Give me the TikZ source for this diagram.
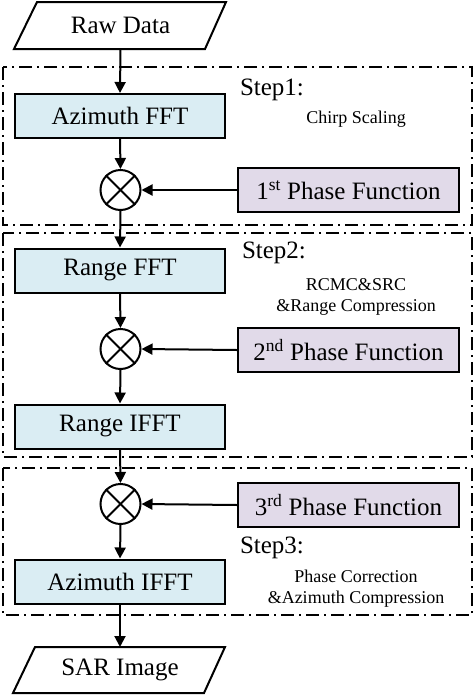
\documentclass[tikz,border=0pt]{standalone}
\usepackage{fontspec}
\setmainfont{Liberation Serif}
\usetikzlibrary{arrows.meta}
\definecolor{boxblue}{HTML}{DAEDF3}
\definecolor{boxpurple}{HTML}{E1DAE9}
\begin{document}
\begin{tikzpicture}[x=1pt,y=-1pt,line width=2pt,
  bigfont/.style={font=\fontsize{25}{30}\selectfont},
  smallfont/.style={font=\fontsize{18}{21}\selectfont},
  proc/.style={draw,fill=boxblue,minimum width=210pt,minimum height=44pt,inner sep=0pt,bigfont},
  phase/.style={draw,fill=boxpurple,minimum width=221pt,minimum height=44pt,inner sep=0pt,bigfont},
  iobox/.style={minimum width=190pt,minimum height=44pt,inner sep=0pt,bigfont},
  mult/.style={draw,circle,minimum size=40pt,inner sep=0pt},
  flow/.style={-{Triangle[length=11pt,width=11pt]}},
  stepframe/.style={line width=2pt,dash pattern=on 13pt off 5pt on 2pt off 5pt},
  steplabel/.style={anchor=west,inner sep=0pt,bigfont},
  note/.style={align=center,inner sep=0pt,smallfont}]
\useasboundingbox (0,0) rectangle (474,697);
% frames
\draw[stepframe] (3,67) rectangle (472,225);
\draw[stepframe] (3,233) rectangle (472,457);
\draw[stepframe] (3,468) rectangle (472,615);
% input / output parallelograms
\draw (14,49) -- (37,2) -- (226,2) -- (205,49) -- cycle;
\node[iobox] (raw) at (120.5,25.5) {Raw Data};
\draw (13,693) -- (35,647) -- (225,647) -- (204,693) -- cycle;
\node[iobox] (sar) at (120,670) {SAR Image};
% processing boxes
\node[proc] (azfft) at (120,116) {Azimuth FFT};
\node[mult] (c1) at (120.5,190) {};
\node[phase] (p1) at (348.5,190) {1\textsuperscript{st} Phase Function};
\node[proc] (rfft) at (120,270.5) {Range FFT};
\node[mult] (c2) at (120.5,349) {};
\node[phase] (p2) at (348.5,350) {2\textsuperscript{nd} Phase Function};
\node[proc] (rifft) at (120,426.5) {Range IFFT};
\node[mult] (c3) at (120.5,504) {};
\node[phase] (p3) at (348.5,505) {3\textsuperscript{rd} Phase Function};
\node[proc] (aifft) at (120,581.5) {Azimuth IFFT};
% crosses
\foreach \c in {c1,c2,c3} {
  \draw (\c.north west) -- (\c.south east);
  \draw (\c.north east) -- (\c.south west);
}
% labels
\node[steplabel] (s1) at (239,90) {Step1:};
\node[note] (n1) at (356,119) {Chirp Scaling};
\node[steplabel] (s2) at (241,253) {Step2:};
\node[note] (n2) at (356,297) {RCMC\&SRC\\\&Range Compression};
\node[steplabel] (s3) at (239,548) {Step3:};
\node[note] (n3) at (356,588.5) {Phase Correction\\\&Azimuth Compression};
% connectors
\draw[flow] (raw.south) -- (azfft.north);
\draw[flow] (azfft.south) -- (c1.north);
\draw[flow] (p1.west) -- (c1.east);
\draw[flow] (c1.south) -- (rfft.north);
\draw[flow] (rfft.south) -- (c2.north);
\draw[flow] (p2.west) -- (c2.east);
\draw[flow] (c2.south) -- (rifft.north);
\draw[flow] (rifft.south) -- (c3.north);
\draw[flow] (p3.west) -- (c3.east);
\draw[flow] (c3.south) -- (aifft.north);
\draw[flow] (aifft.south) -- (sar.north);
\end{tikzpicture}
\end{document}
